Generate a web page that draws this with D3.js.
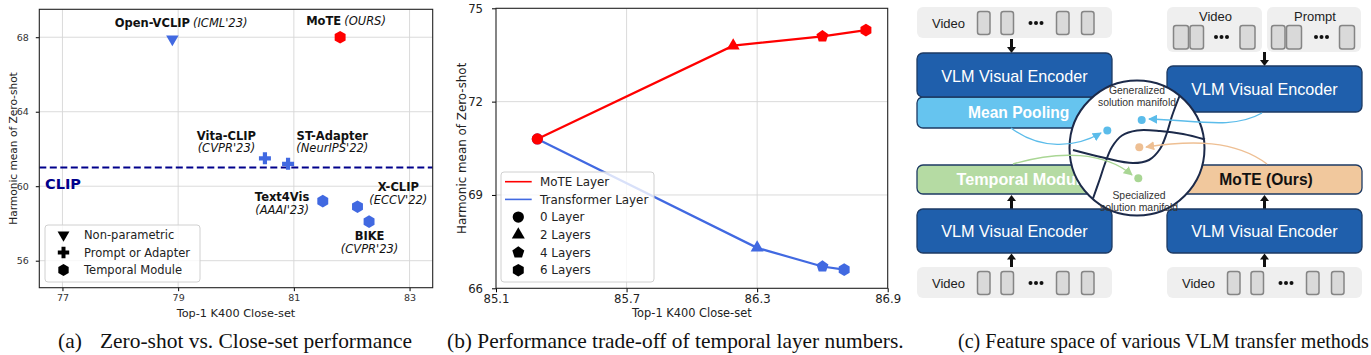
<!DOCTYPE html>
<html>
<head>
<meta charset="utf-8">
<script src="https://cdn.jsdelivr.net/npm/d3@7"></script>
<style>
  body { margin: 0; background: #fff; }
  svg { display: block; }
</style>
</head>
<body>
<svg id="fig" width="1371" height="355"></svg>
<script>
// ---- panel (a) data: zero-shot vs close-set ----
const methodNames = ["Open-VCLIP", "MoTE", "Vita-CLIP", "ST-Adapter", "Text4Vis", "X-CLIP", "BIKE"];
const methodVenues = ["(ICML'23)", "(OURS)", "(CVPR'23)", "(NeurIPS'22)", "(AAAI'23)", "(ECCV'22)", "(CVPR'23)"];
const methodTypes = ["Non-parametric", "Temporal Module", "Prompt or Adapter", "Prompt or Adapter",
                     "Temporal Module", "Temporal Module", "Temporal Module"];
const closeSetAcc = [78.9, 81.8, 80.5, 80.9, 81.5, 82.1, 82.3];
const zeroShotHM = [67.9, 68.0, 61.5, 61.2, 59.2, 58.9, 58.1];
const clipZeroShot = 61.0;
const typeLegend = ["Non-parametric", "Prompt or Adapter", "Temporal Module"];
const xTicksA = [77, 79, 81, 83];
const yTicksA = [56, 60, 64, 68];

// ---- panel (b) data: temporal layer numbers ----
const layerLabels = ["0 Layer", "2 Layers", "4 Layers", "6 Layers"];
const moteCloseSet = [85.29, 86.19, 86.6, 86.8];
const moteZeroShot = [70.8, 73.8, 74.1, 74.3];
const transCloseSet = [85.29, 86.3, 86.6, 86.7];
const transZeroShot = [70.8, 67.3, 66.7, 66.6];
const seriesNames = ["MoTE Layer", "Transformer Layer"];
const xTicksB = [85.1, 85.7, 86.3, 86.9];
const yTicksB = [66, 69, 72, 75];

const RED = "#ff0000", BLUE = "#4169e1", NAVY = "#00008b";
const SANS = "'DejaVu Sans', sans-serif";
const ARIAL = "'Liberation Sans', Arial, sans-serif";
const SERIF = "'Liberation Serif', 'Times New Roman', serif";

const svg = d3.select("#fig");

// marker shapes
function polyPath(n, r, start) {
  const pts = d3.range(n).map(i => {
    const a = start + i * 2 * Math.PI / n;
    return [r * Math.cos(a), r * Math.sin(a)].map(v => v.toFixed(2)).join(",");
  });
  return "M" + pts.join("L") + "Z";
}
function plusPath(s, w) {
  const a = s / 2, b = w / 2;
  return `M${-b},${-a}H${b}V${-b}H${a}V${b}H${b}V${a}H${-b}V${b}H${-a}V${-b}H${-b}Z`;
}
const typeShape = {
  "Non-parametric": polyPath(3, 7.2, Math.PI / 2),
  "Prompt or Adapter": plusPath(12, 4.2),
  "Temporal Module": polyPath(6, 6.3, -Math.PI / 2)
};
const layerShape = [
  d3.symbol(d3.symbolCircle, 100)(),
  polyPath(3, 7.5, -Math.PI / 2),
  polyPath(5, 6.3, -Math.PI / 2),
  polyPath(6, 6.3, -Math.PI / 2)
];

// ================= panel (a) =================
const gA = svg.append("g");
const xA = d3.scaleLinear([76.6, 83.4], [39.3, 432.7]);
const yA = d3.scaleLinear([54.55, 69.5], [287.7, 9.3]);

gA.selectAll(".gx").data(xTicksA).join("line")
  .attr("x1", d => xA(d)).attr("x2", d => xA(d))
  .attr("y1", yA.range()[0]).attr("y2", yA.range()[1])
  .attr("stroke", "#d6d6d6").attr("stroke-width", 0.9);
gA.selectAll(".gy").data(yTicksA).join("line")
  .attr("y1", d => yA(d)).attr("y2", d => yA(d))
  .attr("x1", xA.range()[0]).attr("x2", xA.range()[1])
  .attr("stroke", "#d6d6d6").attr("stroke-width", 0.9);

gA.append("g").attr("transform", `translate(0,${yA.range()[0]})`)
  .call(d3.axisBottom(xA).tickValues(xTicksA).tickFormat(d3.format("d")).tickSize(3.5).tickPadding(3))
  .call(g => g.select(".domain").remove())
  .attr("font-family", SANS).attr("font-size", 9.5)
  .call(g => g.selectAll("text").attr("fill", "#333"));
gA.append("g").attr("transform", `translate(${xA.range()[0]},0)`)
  .call(d3.axisLeft(yA).tickValues(yTicksA).tickFormat(d3.format("d")).tickSize(3.5).tickPadding(7))
  .call(g => g.select(".domain").remove())
  .attr("font-family", SANS).attr("font-size", 9.5)
  .call(g => g.selectAll("text").attr("fill", "#333"));

gA.append("text").attr("x", d3.mean(xA.range())).attr("y", 316.5)
  .attr("text-anchor", "middle").attr("font-family", SANS).attr("font-size", 11.3)
  .attr("fill", "#222").text("Top-1 K400 Close-set");
gA.append("text").attr("transform", `translate(13,${d3.mean(yA.range())}) rotate(-90)`)
  .attr("text-anchor", "middle").attr("dy", "0.35em").attr("font-family", SANS).attr("font-size", 10.6)
  .attr("fill", "#222").text("Harmonic mean of Zero-shot");

// CLIP baseline
gA.append("line").attr("x1", xA.range()[0]).attr("x2", xA.range()[1])
  .attr("y1", yA(clipZeroShot)).attr("y2", yA(clipZeroShot))
  .attr("stroke", NAVY).attr("stroke-width", 2).attr("stroke-dasharray", "7,3.5");
gA.append("text").attr("x", 45).attr("y", yA(clipZeroShot) + 21)
  .attr("font-family", SANS).attr("font-weight", "bold").attr("font-size", 14.5)
  .attr("fill", NAVY).text("CLIP");

// points
gA.selectAll(".pt").data(d3.range(methodNames.length)).join("path")
  .attr("transform", i => `translate(${xA(closeSetAcc[i])},${yA(zeroShotHM[i])})`)
  .attr("d", i => typeShape[methodTypes[i]])
  .attr("fill", i => methodNames[i] === "MoTE" ? RED : BLUE);

// annotation placement (pixel offsets from each point)
const labelOffsets = [
  { inline: true, dx: -57.7, dy: -11.7 },
  { inline: true, dx: -34, dy: -12.6 },
  { dx: -38.5, dy1: -18.4, dy2: -6 },
  { dx: 44.2, dy1: -24, dy2: -11.6 },
  { dx: -40.7, dy1: 0.3, dy2: 12.7 },
  { dx: 40.8, dy1: -16, dy2: -2.7 },
  { dx: 0.5, dy1: 18.3, dy2: 31.3 }
];
methodNames.forEach((name, i) => {
  const px = xA(closeSetAcc[i]), py = yA(zeroShotHM[i]), o = labelOffsets[i];
  if (o.inline) {
    const t = gA.append("text").attr("x", px + o.dx).attr("y", py + o.dy)
      .attr("font-family", SANS).attr("font-size", 11.5).attr("fill", "#111");
    t.append("tspan").attr("font-weight", "bold").text(name);
    t.append("tspan").attr("dx", 3).attr("font-style", "italic").text(methodVenues[i]);
  } else {
    gA.append("text").attr("x", px + o.dx).attr("y", py + o.dy1).attr("text-anchor", "middle")
      .attr("font-family", SANS).attr("font-size", 11.5).attr("font-weight", "bold")
      .attr("fill", "#111").text(name);
    gA.append("text").attr("x", px + o.dx).attr("y", py + o.dy2).attr("text-anchor", "middle")
      .attr("font-family", SANS).attr("font-size", 11.5).attr("font-style", "italic")
      .attr("fill", "#111").text(methodVenues[i]);
  }
});

// legend (a)
const legA = gA.append("g").attr("transform", "translate(45,225)");
legA.append("rect").attr("width", 155).attr("height", 57).attr("rx", 3)
  .attr("fill", "#fff").attr("fill-opacity", 0.8).attr("stroke", "#d0d0d0");
typeLegend.forEach((t, i) => {
  legA.append("path").attr("transform", `translate(18.5,${10 + i * 17.5}) scale(0.95)`)
    .attr("d", typeShape[t]).attr("fill", "#000");
  legA.append("text").attr("x", 39).attr("y", 10 + i * 17.5).attr("dy", "0.35em")
    .attr("font-family", SANS).attr("font-size", 11.5).attr("fill", "#222").text(t);
});

gA.append("rect").attr("x", xA.range()[0]).attr("y", yA.range()[1])
  .attr("width", xA.range()[1] - xA.range()[0]).attr("height", yA.range()[0] - yA.range()[1])
  .attr("fill", "none").attr("stroke", "#222").attr("stroke-width", 1.1);

// ================= panel (b) =================
const gB = svg.append("g");
const xB = d3.scaleLinear([85.1, 86.9], [496, 887.7]);
const yB = d3.scaleLinear([66, 75], [288.3, 8.3]);

gB.selectAll(".gx").data(xTicksB.slice(1, -1)).join("line")
  .attr("x1", d => xB(d)).attr("x2", d => xB(d))
  .attr("y1", yB.range()[0]).attr("y2", yB.range()[1])
  .attr("stroke", "#d6d6d6").attr("stroke-width", 0.9);
gB.selectAll(".gy").data(yTicksB.slice(1, -1)).join("line")
  .attr("y1", d => yB(d)).attr("y2", d => yB(d))
  .attr("x1", xB.range()[0]).attr("x2", xB.range()[1])
  .attr("stroke", "#d6d6d6").attr("stroke-width", 0.9);

gB.append("g").attr("transform", `translate(0,${yB.range()[0]})`)
  .call(d3.axisBottom(xB).tickValues(xTicksB).tickFormat(d3.format(".1f")).tickSize(4).tickPadding(2))
  .call(g => g.select(".domain").remove())
  .attr("font-family", SANS).attr("font-size", 11.7)
  .call(g => g.selectAll("text").attr("fill", "#222"));
gB.append("g").attr("transform", `translate(${xB.range()[0]},0)`)
  .call(d3.axisLeft(yB).tickValues(yTicksB).tickFormat(d3.format("d")).tickSize(4).tickPadding(9))
  .call(g => g.select(".domain").remove())
  .attr("font-family", SANS).attr("font-size", 11.7)
  .call(g => g.selectAll("text").attr("fill", "#222"));

gB.append("text").attr("x", d3.mean(xB.range())).attr("y", 316.5)
  .attr("text-anchor", "middle").attr("font-family", SANS).attr("font-size", 11.4)
  .attr("fill", "#222").text("Top-1 K400 Close-set");
gB.append("text").attr("transform", `translate(462,${d3.mean(yB.range())}) rotate(-90)`)
  .attr("text-anchor", "middle").attr("dy", "0.35em").attr("font-family", SANS).attr("font-size", 11.9)
  .attr("fill", "#222").text("Harmonic mean of Zero-shot");

const lineB = d3.line().x(d => xB(d[0])).y(d => yB(d[1]));
const seriesB = [
  { name: seriesNames[1], color: BLUE, pts: d3.zip(transCloseSet, transZeroShot) },
  { name: seriesNames[0], color: RED, pts: d3.zip(moteCloseSet, moteZeroShot) }
];
seriesB.forEach(s => {
  gB.append("path").attr("d", lineB(s.pts)).attr("fill", "none")
    .attr("stroke", s.color).attr("stroke-width", 2.2);
  gB.selectAll(null).data(s.pts).join("path")
    .attr("transform", d => `translate(${xB(d[0])},${yB(d[1])})`)
    .attr("d", (d, i) => layerShape[i]).attr("fill", s.color);
});

// legend (b)
const legB = gB.append("g").attr("transform", "translate(501,172)");
legB.append("rect").attr("width", 153).attr("height", 110).attr("rx", 3)
  .attr("fill", "#fff").attr("fill-opacity", 0.8).attr("stroke", "#d0d0d0");
[seriesB[1], seriesB[0]].forEach((s, i) => {
  const yy = 9.7 + i * 17.7;
  legB.append("line").attr("x1", 4).attr("x2", 30.7).attr("y1", yy).attr("y2", yy)
    .attr("stroke", s.color).attr("stroke-width", 1.6);
  legB.append("text").attr("x", 39).attr("y", yy).attr("dy", "0.35em")
    .attr("font-family", SANS).attr("font-size", 11.9).attr("fill", "#222").text(s.name);
});
layerLabels.forEach((t, i) => {
  const yy = 9.7 + (i + 2) * 17.7;
  legB.append("path").attr("transform", `translate(17.3,${yy})`)
    .attr("d", layerShape[i]).attr("fill", "#000");
  legB.append("text").attr("x", 39).attr("y", yy).attr("dy", "0.35em")
    .attr("font-family", SANS).attr("font-size", 11.9).attr("fill", "#222").text(t);
});

gB.append("rect").attr("x", xB.range()[0]).attr("y", yB.range()[1])
  .attr("width", xB.range()[1] - xB.range()[0]).attr("height", yB.range()[0] - yB.range()[1])
  .attr("fill", "none").attr("stroke", "#222").attr("stroke-width", 1.1);

// ================= panel (c): diagram =================
const gC = svg.append("g");
const defs = svg.append("defs");
const arrowColors = { blue: "#5bbcea", orange: "#eebf93", green: "#a9d694" };
Object.entries(arrowColors).forEach(([k, c]) => {
  defs.append("marker").attr("id", "ah-" + k).attr("viewBox", "0 0 10 10")
    .attr("refX", 9).attr("refY", 5).attr("markerWidth", 6.5).attr("markerHeight", 6.5)
    .attr("orient", "auto")
    .append("path").attr("d", "M0,0L10,5L0,10z").attr("fill", c);
});

const BOX_STROKE = "#1d3a63";
function box(x, y, w, h, fill, stroke) {
  gC.append("rect").attr("x", x).attr("y", y).attr("width", w).attr("height", h).attr("rx", 6)
    .attr("fill", fill).attr("stroke", stroke || "none").attr("stroke-width", 1.3);
}
function label(x, y, txt, size, color, bold, anchor) {
  gC.append("text").attr("x", x).attr("y", y).attr("text-anchor", anchor || "middle")
    .attr("font-family", ARIAL).attr("font-size", size).attr("font-weight", bold ? "bold" : "normal")
    .attr("fill", color).text(txt);
}
function frame(x, y, w, h) {
  gC.append("rect").attr("x", x).attr("y", y).attr("width", w).attr("height", h).attr("rx", 2.5)
    .attr("fill", "#d9d9d9").attr("stroke", "#858585").attr("stroke-width", 1.5);
}
function dots(cx, cy) {
  [-5.5, 0, 5.5].forEach(d => gC.append("circle").attr("cx", cx + d).attr("cy", cy).attr("r", 2).attr("fill", "#111"));
}
function videoStrip(x, y) {
  box(x, y, 195, 31, "#efefef");
  gC.append("text").attr("x", x + 15).attr("y", y + 20.5).attr("font-family", ARIAL)
    .attr("font-size", 13).attr("fill", "#222").text("Video");
  [60.5, 84, 139.5, 164.5].forEach(o => frame(x + o, y + 4.5, 12.5, 23));
  dots(x + 119, y + 16);
}
function blackArrow(x, y1, y2) {
  const s = Math.sign(y2 - y1);
  gC.append("line").attr("x1", x).attr("x2", x).attr("y1", y1).attr("y2", y2 - s * 5)
    .attr("stroke", "#111").attr("stroke-width", 3);
  gC.append("path").attr("d", `M${x - 4.5},${y2 - s * 6}L${x + 4.5},${y2 - s * 6}L${x},${y2}Z`).attr("fill", "#111");
}

const LX = 917, RX = 1167, BW = 195;
const DARK = "#1f5fac";

// left column (top: mean pooling)
videoStrip(LX, 7);
blackArrow(1011.5, 39, 53);
box(LX, 97, BW, 31, "#66c4ef", BOX_STROKE);
label(968, 118.3, "Mean Pooling", 15.6, "#fff", true, "start");
box(LX, 53, BW, 44, DARK, BOX_STROKE);
label(LX + BW / 2, 81.5, "VLM Visual Encoder", 16.2, "#fff");

// left column (bottom: temporal module)
box(LX, 165, BW, 29, "#b5dba3", BOX_STROKE);
label(956.5, 185.3, "Temporal Module", 16.2, "#fff", true, "start");
blackArrow(1011.5, 209, 195);
box(LX, 209, BW, 44, DARK, BOX_STROKE);
label(LX + BW / 2, 236.5, "VLM Visual Encoder", 16.2, "#fff");
blackArrow(1011.5, 267, 253.5);
videoStrip(LX, 267);

// right column (top: video + prompt)
box(RX, 7, 95, 45, "#efefef");
label(RX + 48.5, 20.8, "Video", 13, "#222");
[[6.5, 15], [23, 13.5], [73, 15]].forEach(([o, w]) => frame(RX + o, 25.5, w, 23.5));
dots(RX + 54.5, 37);
box(1267, 7, 94, 45, "#efefef");
label(1267 + 48, 20.8, "Prompt", 13, "#222");
[[4.5, 13.5], [19.5, 15], [72.5, 15]].forEach(([o, w]) => frame(1267 + o, 25.5, w, 23.5));
dots(1267 + 54.5, 37);
blackArrow(1264.5, 52, 66);
box(RX, 66, BW, 46, DARK, BOX_STROKE);
label(RX + BW / 2, 95, "VLM Visual Encoder", 16.2, "#fff");

// right column (bottom: MoTE)
box(RX, 165, BW, 29, "#f1c89d", BOX_STROKE);
label(RX + BW / 2 + 1.5, 185.3, "MoTE (Ours)", 15.6, "#111", true);
blackArrow(1264.5, 209, 195);
box(RX, 209, BW, 44, DARK, BOX_STROKE);
label(RX + BW / 2, 236.5, "VLM Visual Encoder", 16.2, "#fff");
blackArrow(1264.5, 267, 253.5);
videoStrip(RX, 267);

// feature-space circle
gC.append("circle").attr("cx", 1137).attr("cy", 148).attr("r", 67.5)
  .attr("fill", "#fff").attr("stroke", "#1c2a4a").attr("stroke-width", 2);
label(1137, 93.5, "Generalized", 10.4, "#333");
label(1137, 106, "solution manifold", 10.4, "#333");
label(1139, 198.5, "Specialized", 10.4, "#333");
label(1139, 210.5, "solution manifold", 10.4, "#333");

const manifold = d3.line().curve(d3.curveCatmullRom.alpha(0.5));
const manifoldA = [[1073, 150], [1103, 157.5], [1133, 163], [1149, 160], [1160, 149], [1166.5, 134], [1172, 116], [1179.5, 96]];
const manifoldB = [[1205, 139.5], [1183, 134], [1160, 131], [1137, 130.5], [1122, 135.5], [1112, 147], [1105, 163.5], [1099.5, 180], [1093, 198.5]];
[manifoldA, manifoldB].forEach(p => gC.append("path").attr("d", manifold(p))
  .attr("fill", "none").attr("stroke", "#1c2a4a").attr("stroke-width", 2));

// feature points and transfer arrows
const featureDots = [[1141.7, 120, "blue"], [1107.3, 130.5, "blue"], [1139.3, 147.3, "orange"], [1138.3, 178.3, "green"]];
featureDots.forEach(([x, y, k]) => gC.append("circle").attr("cx", x).attr("cy", y).attr("r", 4)
  .attr("fill", arrowColors[k]));
const arrowPaths = [
  ["M1262,113 C1232,130 1195,120 1149,119", "blue"],
  ["M1011,128 C1040,150 1075,148 1101,133", "blue"],
  ["M1267,164 C1235,140 1192,140 1146,147", "orange"],
  ["M1013,164 C1060,150 1105,152 1132,175", "green"]
];
arrowPaths.forEach(([d, k]) => gC.append("path").attr("d", d).attr("fill", "none")
  .attr("stroke", arrowColors[k]).attr("stroke-width", 1.4).attr("marker-end", `url(#ah-${k})`));

// ================= captions (sized to fit their measured spans) =================
function caption(x, right, txt) {
  const t = svg.append("text").attr("x", x).attr("y", 348).attr("font-family", SERIF)
    .attr("font-size", 20).attr("fill", "#111").text(txt);
  const w = t.node().getComputedTextLength();
  t.attr("font-size", 20 * (right - x) / w);
  return t;
}
const capA = caption(100, 412, "Zero-shot vs. Close-set performance");
svg.append("text").attr("x", 58).attr("y", 348).attr("font-family", SERIF)
  .attr("font-size", capA.attr("font-size")).attr("fill", "#111").text("(a)");
caption(447, 904, "(b) Performance trade-off of temporal layer numbers.");
caption(958, 1369, "(c) Feature space of various VLM transfer methods");
</script>
</body>
</html>
